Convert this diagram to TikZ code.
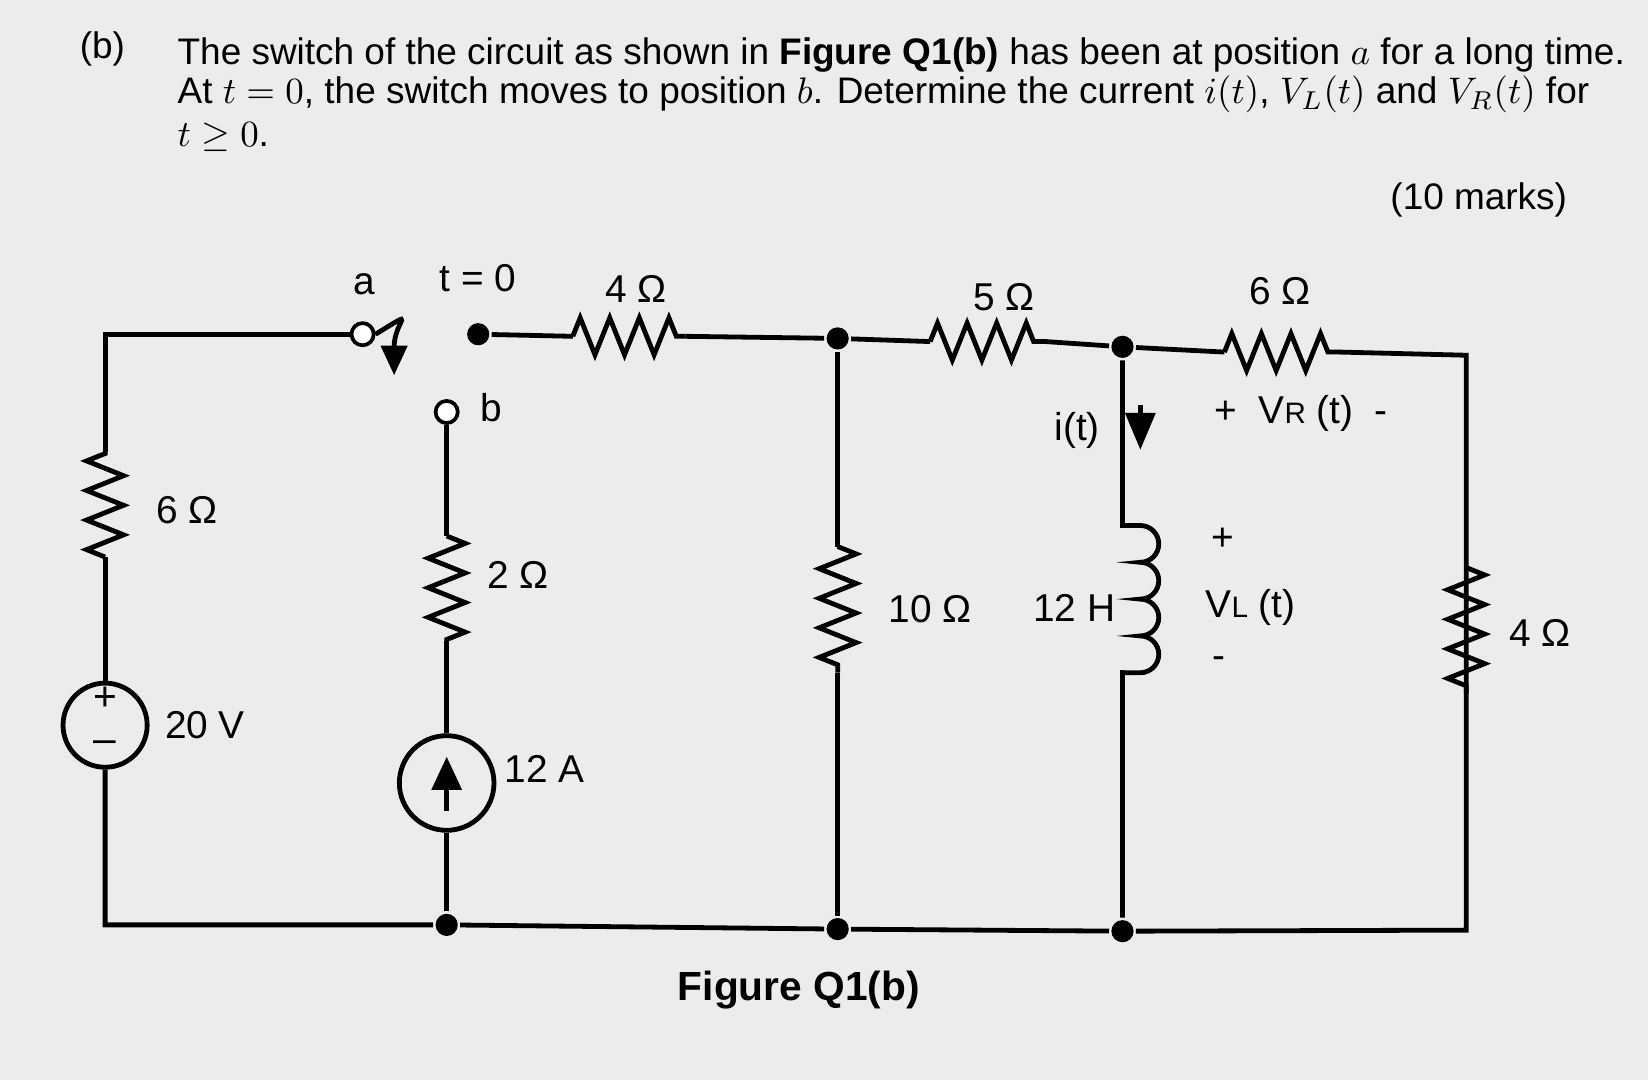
\documentclass[tikz,border=0pt]{standalone}
\usepackage{fontspec}
\setmainfont{Liberation Sans}
\usetikzlibrary{decorations.pathmorphing,arrows.meta}
\begin{document}
\begin{tikzpicture}[x=0.01cm,y=-0.01cm,line width=1.3pt,
  res/.style={decorate,decoration={zigzag,segment length=8pt,amplitude=5pt,pre length=0pt,post length=0pt}},
  lbl/.style={font=\fontsize{10.5}{12}\selectfont},
  hdr/.style={anchor=west,font=\fontsize{10}{12}\selectfont},
  dotn/.style={circle,fill,inner sep=0pt,minimum size=6pt},
  opn/.style={circle,draw,fill=white,inner sep=0pt,minimum size=6pt,line width=1pt}]
\fill[gray!15] (0,0) rectangle (1568,1028);
\useasboundingbox (0,0) rectangle (1568,1028);
% header
\node[hdr] (hb) at (62,47) {(b)};
\node[hdr] (h1) at (155,52) {The switch of the circuit as shown in \textbf{Figure Q1(b)} has been at position $a$ for a long time.};
\node[hdr] (h2) at (155,90) {At $t=0$, the switch moves to position $b$. Determine the current $i(t)$, $V_L(t)$ and $V_R(t)$ for};
\node[hdr] (h3) at (155,130) {$t\geq 0$.};
\node[hdr,anchor=east] (mk) at (1505,190) {(10 marks)};
% coordinates
\coordinate (tl) at (100,318);
\coordinate (r6t) at (100,430);
\coordinate (r6b) at (100,530);
\coordinate (bl) at (100,880);
\node[opn] (a) at (345,318) {};
\node[dotn] (s) at (455,318) {};
\node[opn] (b) at (425,392) {};
\coordinate (r4l) at (545,320);
\coordinate (r4r) at (652,320);
\node[dotn] (n1) at (797,322) {};
\coordinate (r5l) at (885,325);
\coordinate (r5r) at (995,325);
\node[dotn] (n2) at (1068,330) {};
\coordinate (r6l) at (1165,335);
\coordinate (r6r) at (1275,335);
\coordinate (tr) at (1395,338);
\coordinate (br) at (1395,885);
\node[dotn] (g1) at (425,880) {};
\node[dotn] (g2) at (797,884) {};
\node[dotn] (g3) at (1068,886) {};
% voltage source
\node[circle,draw,minimum size=0.8cm,inner sep=0pt] (vs) at (100,690) {};
\node[font=\fontsize{11}{13}\selectfont] (vp) at (100,665) {+};
\node[font=\fontsize{11}{13}\selectfont] (vm) at (100,710) {--};
% current source
\node[circle,draw,minimum size=0.9cm,inner sep=0pt] (cs) at (425,745) {};
\draw[-{Triangle[length=9pt,width=8pt]}] (425,772) -- (425,720);
% left branch
\draw (vs.north) -- (r6b);
\draw[res] (r6b) -- (r6t);
\draw (r6t) -- (tl) -- (a);
\draw (vs.south) -- (bl) -- (g1) -- (g2) -- (g3) -- (br) -- (tr) -- (r6r);
% switch blade
\draw[-{Triangle[length=8pt,width=7pt]}] (a.east) .. controls (400,292) and (375,305) .. (375,357);
\draw (s) -- (r4l);
\draw[res] (r4l) -- (r4r);
\draw (r4r) -- (n1) -- (r5l);
\draw[res] (r5l) -- (r5r);
\draw (r5r) -- (n2) -- (r6l);
\draw[res] (r6l) -- (r6r);
% 2 ohm branch
\coordinate (r2t) at (425,510);
\coordinate (r2b) at (425,610);
\draw (b) -- (r2t);
\draw[res] (r2t) -- (r2b);
\draw (r2b) -- (cs.north);
\draw (cs.south) -- (g1);
% 10 ohm
\coordinate (r10t) at (797,520);
\coordinate (r10b) at (797,640);
\draw (n1) -- (r10t);
\draw[res] (r10t) -- (r10b);
\draw (r10b) -- (g2);
% inductor
\coordinate (lt) at (1068,500);
\coordinate (lb) at (1068,640);
\draw (n2) -- (lt) -- (1085,500) arc(90:-90:0.175cm) arc(90:-90:0.175cm) arc(90:-90:0.175cm) arc(90:-90:0.175cm) -- (lb) -- (g3);
% 4 ohm right
\coordinate (r4t) at (1395,540);
\coordinate (r4b) at (1395,660);
\draw[res] (r4t) -- (r4b);
% current arrow
\coordinate (ia) at (1085,385);
\coordinate (ib) at (1085,428);
\draw[-{Triangle[length=10pt,width=8pt]}] (ia) -- (ib);
% labels
\node[lbl] (la) at (347,270) {a};
\node[lbl] (lt0) at (455,265) {t = 0};
\node[lbl] (lbb) at (467,388) {b};
\node[lbl] (l4) at (605,275) {4 Ω};
\node[lbl] (l5) at (955,283) {5 Ω};
\node[lbl] (l6t) at (1218,277) {6 Ω};
\node[lbl] (l6) at (178,485) {6 Ω};
\node[lbl] (l20) at (195,690) {20 V};
\node[lbl] (l2) at (493,547) {2 Ω};
\node[lbl] (l12a) at (518,732) {12 A};
\node[lbl] (l10) at (885,580) {10 Ω};
\node[lbl,anchor=east] (l12h) at (1075,578) {12 H};
\node[lbl] (lr4) at (1465,602) {4 Ω};
\node[lbl] (li) at (1025,410) {i(t)};
\node[lbl] (lvr) at (1238,393) {+\ \ V{\fontsize{8}{9}\selectfont R} (t)\ \ -};
\node[lbl] (lvp) at (1163,513) {+};
\node[lbl] (lvl) at (1190,578) {V{\fontsize{8}{9}\selectfont L} (t)};
\node[lbl] (lvm) at (1160,630) {-};
\node[lbl,font=\bfseries\fontsize{11}{13}\selectfont] (fig) at (760,942) {Figure Q1(b)};
\end{tikzpicture}
\end{document}
